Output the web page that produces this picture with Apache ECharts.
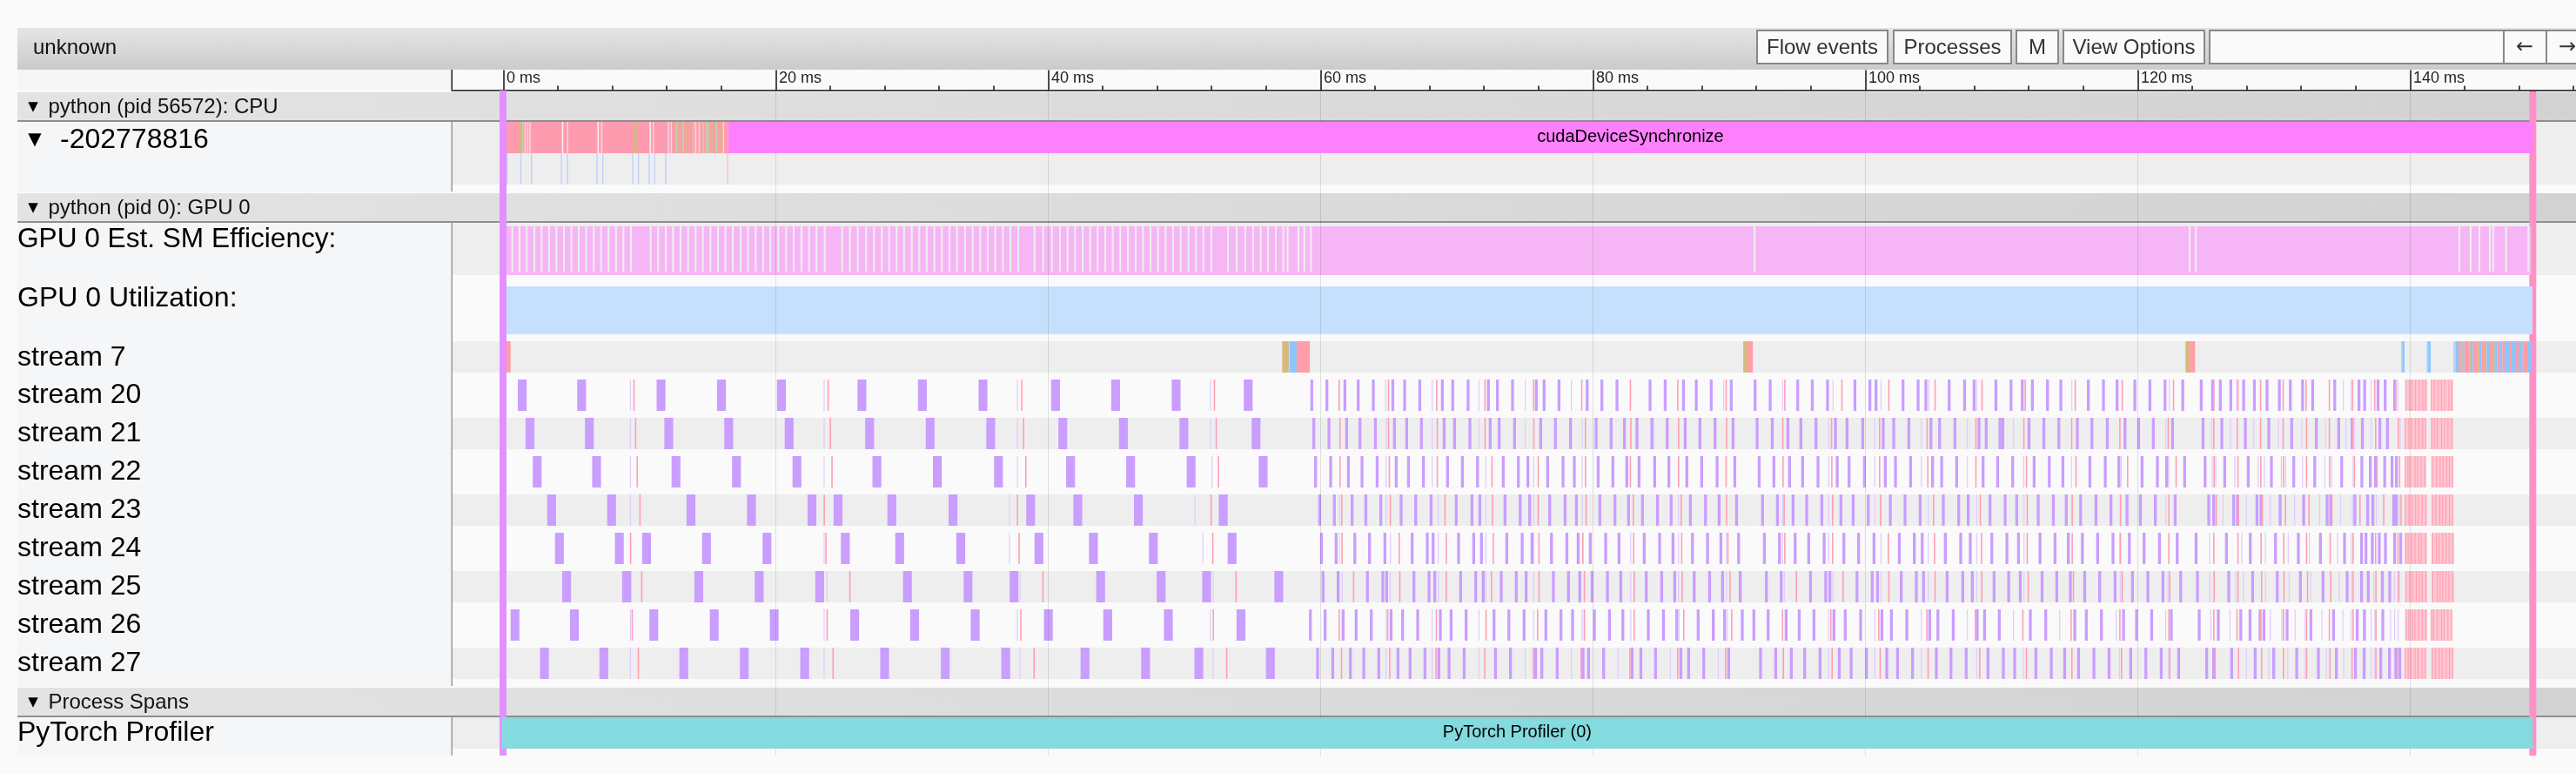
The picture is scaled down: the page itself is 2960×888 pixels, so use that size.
<!doctype html>
<html lang="en">

<head>
	<meta charset="UTF-8">
	<title>unknown</title>
	<script src="https://cdn.jsdelivr.net/npm/echarts@6/dist/echarts.min.js"></script>
	<style>
		html,
		body {
			margin: 0;
			padding: 0;
			width: 100%;
			height: 100%;
			background: #fafafa;
		}

		#main {
			width: 100%;
			height: 100%;
		}
	</style>
</head>

<body>
	<div id="main"></div>
	<script type="text/javascript">
		// all times in ms
		var rulerMajorMs = 20;
		var rulerMinorParts = 5;

		var cpuSyncSpan = [16.50, 149.0];
		var cpuOpSpan = [0.06, 16.50];
		var cpuOpTan = [1.23, 9.58, 9.70, 12.86, 13.35, 13.62, 15.26, 15.90];
		var cpuOpGreen = [1.38, 12.68, 13.15, 13.90, 14.63, 14.84, 15.01, 15.60];
		var cpuOpLight = [1.55, 1.74, 1.91, 4.66, 7.17, 10.96, 12.07, 12.28, 14.07, 14.33, 16.11];
		var cpuOpWhite = [4.30, 6.91, 10.73];
		var cpuOpBlue = [11.88];
		var cpuChildBlue = [0.23, 1.23, 2.02, 4.21, 4.66, 6.83, 7.25, 9.45, 9.87, 10.66, 11.05, 11.88];
		var cpuChildPink = [16.41];

		var efficiencySpan = [0.0, 148.88];
		var efficiencyGaps = [0.59, 1.12, 1.65, 2.21, 2.74, 3.29, 3.83, 4.38, 4.93, 5.47, 6.02, 6.57, 7.11, 7.66, 8.21, 8.75, 9.30,
			10.75, 11.30, 11.86, 12.39, 12.94, 13.50, 14.05, 14.58, 15.14, 15.69, 16.24, 16.78, 17.35, 17.90, 18.46, 19.01, 19.54,
			20.12, 20.70, 21.25, 21.82, 22.38, 22.93, 23.53, 24.81, 25.38, 25.96, 26.57, 27.15, 27.72, 28.26, 28.81, 29.36, 29.92,
			30.47, 31.02, 31.58, 32.13, 32.69, 33.24, 33.84, 34.39, 34.95, 35.50, 36.05, 36.61, 37.16, 37.74, 38.93, 39.57, 40.21,
			40.80, 41.36, 41.91, 42.47, 43.02, 43.57, 44.13, 44.68, 45.23, 45.79, 46.36, 46.90, 47.45, 48.00, 48.56, 49.11, 49.66,
			50.24, 50.79, 51.33, 51.92, 53.14, 53.78, 54.41, 54.99, 55.54, 56.08, 56.65, 57.20, 57.52, 58.31, 58.74, 59.23,
			91.80, 123.75, 124.20, 143.55, 144.38, 145.02, 145.79, 146.04, 146.98, 148.62];
		var utilizationSpan = [0.0, 148.98];

		var stream7Pink = [[0.0, 0.53], [58.24, 59.21], [91.35, 91.74], [123.82, 124.21], [143.55, 143.72], [143.98, 144.34], [144.62, 144.98],
			[145.26, 145.47], [145.79, 146.04], [146.38, 146.55], [146.77, 146.94], [147.26, 147.45], [147.77, 147.96], [148.26, 148.60]];
		var stream7Tan = [[57.18, 57.67], [91.04, 91.35], [123.51, 123.82], [143.72, 143.85], [144.34, 144.45], [144.98, 145.08], [145.47, 145.62], [146.04, 146.21]];
		var stream7Blue = [[57.71, 58.24], [139.42, 139.59], [141.30, 141.51], [143.34, 143.55], [143.85, 143.98], [144.45, 144.62], [145.08, 145.26],
			[145.62, 145.79], [146.21, 146.38], [146.55, 146.77], [146.94, 147.26], [147.45, 147.77], [147.96, 148.26], [148.60, 148.88]];
		var stream7PaleBlue = [[139.33, 139.42], [141.21, 141.30], [143.17, 143.34]];

		var stream20Long = [1.06, 5.42, 11.25, 15.69, 20.09, 26.00, 30.44, 34.89, 40.22, 44.63, 49.07, 54.36];
		var stream20Kernel = [59.25, 60.36, 61.68, 62.66, 63.77, 65.20, 66.07, 67.18, 68.84, 69.60, 70.73, 72.22, 72.88, 73.99, 75.74, 76.31, 77.40, 79.47, 80.55, 81.66, 84.09,
			85.20, 86.54, 87.48, 88.58, 90.05, 91.80, 92.91, 94.93, 96.00, 97.12, 99.13, 100.23, 100.68, 102.66, 103.77, 104.34, 106.05, 107.18, 107.88, 109.48,
			110.59, 111.42, 112.16, 113.27, 114.25, 116.27, 117.38, 118.38, 119.68, 120.79, 121.90, 123.20, 124.56, 125.39, 125.96, 126.73, 127.67, 128.46, 129.39, 130.29, 131.10, 132.00, 132.74, 134.36,
			136.14, 136.56, 137.54, 138.06, 138.76];
		var stream20Faint = [9.29, 23.51, 37.70, 51.88, 64.75, 68.16, 71.59, 74.99, 78.38, 89.56, 93.89, 97.59, 101.11, 104.62, 108.14, 115.12, 122.28, 127.20, 135.06, 135.63, 137.10, 139.06];
		var stream20Memset = [9.54, 23.80, 38.02, 52.16, 61.32, 64.94, 68.48, 72.03, 75.59, 79.13, 82.70, 86.18, 89.73, 94.04, 98.23, 101.68, 105.07, 108.52,
			111.69, 115.36, 118.81, 122.58, 125.54, 127.31, 128.97, 130.63, 132.31, 134.02, 135.73, 137.35, 138.89];
		var stream20Burst = [[139.65, 141.27], [141.51, 143.17]];
		var stream20BurstMarks = [139.65, 139.91, 140.10, 140.36, 140.63, 140.89, 141.10, 141.51, 141.74, 142.04, 142.27, 142.51, 142.81, 143.02];

		var stream21Long = [1.63, 5.99, 11.82, 16.22, 20.66, 26.57, 31.01, 35.46, 40.75, 45.20, 49.64, 54.94];
		var stream21Kernel = [59.40, 60.51, 61.81, 62.79, 63.92, 65.32, 66.22, 67.30, 68.97, 69.73, 70.86, 72.35, 73.01, 74.14, 76.06, 77.14, 78.25, 80.13, 81.23, 82.21, 83.13, 84.22,
			85.35, 86.67, 87.75, 88.86, 90.18, 91.95, 93.06, 94.21, 95.16, 96.27, 97.70, 98.55, 99.70, 101.21, 101.98, 103.09, 104.71, 105.35, 106.47, 108.24, 108.77, 109.78,
			109.99, 111.91, 113.00, 114.10, 115.46, 116.53, 117.66, 118.96, 119.96, 121.04, 122.45, 124.69, 126.07, 127.80, 129.52, 131.20, 133.01, 134.65,
			135.63, 136.39, 137.67, 138.23];
		var stream21Faint = [9.29, 23.51, 37.70, 51.88, 64.77, 68.16, 71.59, 74.99, 79.17, 84.43, 97.27, 100.66, 104.07, 107.45, 110.84, 122.02, 125.39, 126.77, 128.48, 130.29, 132.00, 133.74, 135.25, 135.88, 137.10, 139.23];
		var stream21Memset = [9.66, 23.96, 38.15, 52.29, 61.38, 64.94, 68.52, 72.03, 75.61, 79.40, 82.73, 86.24, 89.76, 93.89, 97.47, 101.00, 104.49, 108.07,
			111.59, 115.10, 118.64, 122.19, 125.54, 127.26, 128.97, 130.63, 132.35, 134.02, 135.73, 137.42, 139.08];
		var stream21Burst = [[139.59, 141.19], [141.51, 143.17]];
		var stream21BurstMarks = [139.59, 139.87, 140.08, 140.36, 140.61, 140.89, 141.10, 141.55, 141.74, 141.95, 142.27, 142.49, 142.74, 143.02];

		var stream22Long = [2.16, 6.52, 12.35, 16.79, 21.23, 27.10, 31.54, 36.03, 41.32, 45.73, 50.17, 55.46];
		var stream22Kernel = [59.53, 60.64, 61.94, 62.94, 64.05, 65.45, 66.35, 67.45, 69.22, 70.31, 71.42, 73.31, 74.42, 75.12, 76.57, 77.70, 78.53, 80.28, 81.36, 82.38, 83.28,
			84.43, 85.47, 86.79, 87.88, 89.01, 90.31, 92.10, 93.18, 94.33, 95.29, 96.42, 97.83, 98.70, 99.83, 101.36, 102.11, 103.22, 104.83, 105.50, 106.60, 108.54, 109.61,
			110.71, 112.29, 113.40, 114.40, 116.38, 117.51, 118.51, 120.21, 121.34, 122.02, 123.34, 124.84, 126.28, 128.01, 129.71, 131.35, 132.89, 134.87,
			136.35, 136.97, 137.35, 138.03, 138.57, 138.89];
		var stream22Faint = [9.29, 23.51, 37.70, 52.00, 64.77, 68.16, 72.10, 75.61, 79.17, 97.27, 100.66, 104.07, 107.45, 111.59, 115.10, 118.74, 122.24, 125.43, 125.69, 127.09, 128.80, 129.27, 130.50, 130.82, 132.06, 133.70, 134.19, 135.78];
		var stream22Memset = [9.78, 24.08, 38.31, 52.45, 61.38, 65.00, 68.52, 72.54, 75.93, 79.40, 82.70, 86.24, 89.73, 93.91, 97.49, 101.00, 104.54, 108.07,
			111.78, 115.42, 119.21, 122.77, 125.56, 127.31, 128.99, 130.65, 132.35, 134.04, 135.86, 137.52, 139.18];
		var stream22Burst = [[139.59, 141.19], [141.55, 143.17]];
		var stream22BurstMarks = [139.59, 139.80, 139.93, 140.33, 140.51, 140.78, 141.04, 141.59, 141.91, 142.17, 142.38, 142.66, 142.85, 143.10];

		var stream23Long = [3.22, 7.62, 13.45, 17.89, 22.33, 24.25, 28.20, 32.69, 38.39, 41.85, 46.30, 52.53];
		var stream23Kernel = [59.83, 60.91, 62.21, 63.22, 64.32, 65.81, 66.88, 68.01, 69.86, 71.01, 71.59, 73.44, 74.55, 75.25, 76.72, 77.85, 78.68, 80.40, 81.51, 82.51, 83.53,
			84.64, 85.64, 87.05, 88.16, 89.16, 90.44, 92.35, 93.44, 94.59, 95.59, 96.70, 98.10, 99.00, 100.11, 101.73, 102.81, 103.92, 105.62, 106.75, 107.45, 109.05,
			110.16, 111.01, 112.59, 113.70, 114.65, 115.70, 116.83, 117.93, 119.11, 120.09, 121.19, 122.64, 125.11, 125.47, 126.94, 127.22, 128.65, 128.95, 130.35, 132.08, 133.80, 134.06,
			135.84, 136.78, 137.16, 138.69, 138.89];
		var stream23Faint = [9.29, 37.13, 50.74, 61.36, 64.77, 68.60, 72.10, 75.61, 79.17, 86.24, 93.89, 97.27, 100.66, 104.58, 108.14, 111.61, 118.70, 122.02, 126.22, 127.94, 129.69, 131.48, 133.31, 134.85, 135.73, 137.48, 139.18];
		var stream23Memset = [9.98, 23.51, 37.70, 51.92, 61.51, 65.07, 69.09, 72.57, 75.93, 79.45, 82.92, 86.43, 89.76, 93.99, 97.55, 101.06, 104.96, 108.39,
			111.84, 115.14, 118.68, 122.24, 125.71, 127.35, 129.10, 130.80, 132.52, 134.21, 136.27, 138.01, 139.29];
		var stream23Burst = [[139.59, 141.25], [141.57, 143.17]];
		var stream23BurstMarks = [139.59, 139.87, 140.12, 140.36, 140.55, 140.85, 141.12, 141.61, 141.85, 142.14, 142.34, 142.59, 142.85, 143.10];

		var stream24Long = [3.79, 8.19, 10.19, 14.59, 19.03, 24.78, 28.77, 33.26, 39.00, 43.00, 47.40, 53.18];
		var stream24Kernel = [59.96, 61.04, 62.41, 63.49, 64.62, 66.62, 67.73, 68.16, 70.03, 71.14, 71.71, 73.57, 74.70, 75.42, 76.85, 77.98, 78.81, 79.70, 80.83, 81.81, 83.66,
			84.79, 85.77, 87.20, 88.31, 89.29, 90.59, 92.48, 93.59, 94.74, 95.74, 96.87, 98.32, 99.40, 100.53, 102.39, 103.49, 104.07, 105.77, 106.90, 107.60, 109.18,
			110.29, 111.14, 112.72, 113.82, 114.80, 115.83, 116.95, 118.08, 119.28, 120.36, 121.49, 122.79, 124.18, 126.41, 128.16, 130.01, 131.69, 133.31, 135.08,
			136.33, 136.65, 137.12, 137.63, 138.08, 138.76, 139.21];
		var stream24Faint = [23.51, 37.13, 51.31, 61.36, 65.09, 68.60, 72.10, 75.61, 82.73, 86.24, 89.76, 93.89, 97.27, 101.11, 104.58, 108.14, 111.61, 118.64, 125.24, 127.60, 129.33, 131.01, 132.57, 134.63, 135.63];
		var stream24Memset = [9.29, 23.64, 37.82, 52.04, 61.53, 65.73, 69.18, 72.63, 75.99, 79.21, 82.94, 86.47, 89.86, 94.04, 97.55, 101.64, 105.03, 108.48,
			111.84, 115.14, 118.68, 122.24, 125.54, 127.31, 129.01, 130.67, 132.35, 134.08, 135.76, 137.42, 139.06];
		var stream24Burst = [[139.59, 141.25], [141.57, 143.23]];
		var stream24BurstMarks = [139.65, 139.82, 140.10, 140.33, 140.61, 140.78, 141.10, 141.61, 141.89, 142.10, 142.36, 142.61, 142.83, 143.08];

		var stream25Long = [4.32, 8.72, 14.02, 18.46, 22.90, 29.34, 33.79, 37.17, 43.53, 47.97, 51.31, 56.61];
		var stream25Kernel = [60.08, 61.19, 63.34, 64.47, 64.75, 66.75, 67.86, 68.28, 70.18, 71.29, 71.84, 73.16, 74.27, 74.99, 76.99, 78.10, 78.93, 79.83, 80.96, 81.94, 83.81,
			84.94, 85.90, 87.33, 88.46, 89.41, 90.71, 92.63, 93.72, 95.87, 96.99, 97.29, 99.28, 100.40, 100.79, 102.53, 103.64, 104.17, 105.90, 107.05, 107.75, 109.35,
			110.42, 111.27, 112.87, 113.95, 114.95, 116.00, 117.10, 118.23, 119.51, 120.64, 121.75, 123.05, 124.28, 126.58, 128.33, 130.14, 131.84, 133.50, 135.27,
			136.33, 136.82, 137.86, 138.40];
		var stream25Faint = [9.37, 23.72, 37.90, 52.08, 61.55, 65.07, 68.60, 72.10, 75.61, 82.73, 86.24, 89.76, 94.01, 97.59, 101.11, 104.58, 108.14, 111.61, 118.68, 122.19, 125.26, 127.16, 127.71, 129.35, 131.08, 132.67, 134.76, 135.63, 137.29, 138.82, 139.18];
		var stream25Memset = [10.11, 25.39, 39.57, 53.75, 62.38, 65.77, 69.18, 72.50, 75.99, 79.32, 82.98, 86.50, 90.01, 94.89, 98.32, 101.68, 105.07, 108.50,
			111.91, 115.23, 118.81, 122.30, 125.56, 127.31, 129.05, 130.69, 132.42, 134.12, 135.76, 137.44, 139.08];
		var stream25Burst = [[139.65, 141.25], [141.57, 143.23]];
		var stream25BurstMarks = [139.65, 139.93, 140.14, 140.42, 140.63, 140.85, 141.12, 141.63, 141.95, 142.17, 142.36, 142.61, 142.81, 143.08];

		var stream26Long = [0.53, 4.89, 10.72, 15.16, 19.56, 25.47, 29.87, 34.32, 39.69, 44.05, 48.50, 53.83];
		var stream26Kernel = [59.15, 60.23, 61.55, 62.51, 63.62, 65.07, 65.92, 67.03, 68.69, 69.48, 70.58, 72.63, 73.72, 74.84, 76.44, 77.55, 78.40, 80.00, 81.11, 82.09, 83.96,
			85.07, 86.05, 87.62, 88.73, 89.56, 90.86, 91.71, 92.76, 94.08, 95.04, 96.12, 97.59, 98.42, 99.55, 101.11, 101.81, 102.94, 104.62, 105.22, 106.35, 108.11, 108.65, 109.73,
			112.01, 113.14, 115.27, 116.12, 117.23, 118.85, 119.81, 120.92, 122.36, 124.41, 125.81, 127.46, 128.14, 128.88, 129.16, 130.86, 132.61, 134.27,
			136.01, 136.54, 137.89];
		var stream26Faint = [9.29, 23.51, 37.70, 51.88, 64.77, 68.16, 71.59, 75.61, 79.17, 82.73, 86.28, 89.82, 97.27, 100.66, 104.07, 107.45, 110.84, 114.23, 118.38, 122.02, 125.33, 126.73, 129.69, 130.54, 131.52, 132.25, 133.48, 135.02, 135.63, 137.10, 137.37, 138.52, 138.82, 139.08];
		var stream26Memset = [9.41, 23.72, 37.94, 52.08, 61.32, 64.88, 68.45, 72.10, 75.89, 79.32, 82.98, 86.62, 90.14, 93.87, 97.42, 100.94, 104.47, 108.03,
			111.52, 115.06, 118.64, 122.24, 125.54, 127.24, 128.97, 130.65, 132.35, 134.02, 135.76, 137.44];
		var stream26Burst = [[139.65, 141.25], [141.51, 143.10]];
		var stream26BurstMarks = [139.65, 139.87, 140.12, 140.31, 140.59, 140.85, 141.12, 141.53, 141.68, 141.97, 142.27, 142.46, 142.74, 143.02];

		var stream27Long = [2.69, 7.05, 12.92, 17.36, 21.80, 27.67, 32.12, 36.56, 42.38, 46.83, 50.74, 55.99];
		var stream27Kernel = [59.68, 60.79, 62.09, 63.07, 64.17, 65.58, 66.47, 67.56, 68.58, 69.33, 70.44, 72.74, 73.84, 75.68, 76.14, 77.27, 79.17, 79.57, 80.68, 82.77, 83.41,
			84.49, 86.35, 86.92, 88.03, 89.86, 92.20, 93.31, 94.46, 95.44, 96.57, 97.98, 98.85, 99.98, 101.47, 102.26, 103.36, 105.11, 106.18, 107.30, 108.90,
			110.03, 110.86, 112.42, 113.55, 114.53, 115.55, 116.68, 117.79, 119.38, 120.49, 121.62, 122.90, 124.96, 125.47, 126.79, 128.52, 129.88, 131.57, 133.16, 134.48,
			135.88, 136.52, 137.74, 138.38, 138.84, 139.14];
		var stream27Faint = [9.29, 23.51, 37.90, 52.08, 64.77, 68.16, 71.59, 74.99, 78.38, 81.81, 85.64, 89.16, 97.27, 100.66, 104.07, 108.14, 111.59, 118.62, 122.22, 127.94, 129.59, 130.97, 132.25, 133.80, 135.08, 137.10, 137.37];
		var stream27Memset = [9.86, 24.16, 38.92, 53.06, 61.49, 65.03, 68.43, 72.01, 75.57, 79.08, 82.66, 86.18, 89.69, 93.93, 97.51, 101.04, 104.56, 108.35,
			111.78, 115.12, 118.76, 122.30, 125.64, 127.35, 129.05, 130.65, 132.35, 134.06, 135.69, 137.44, 139.01];
		var stream27Burst = [[139.59, 141.19], [141.57, 143.17]];
		var stream27BurstMarks = [139.59, 139.82, 140.02, 140.33, 140.55, 140.85, 141.10, 141.59, 141.83, 142.10, 142.32, 142.61, 142.85, 143.10];

		var profilerSpan = [-0.12, 149.0];
		var startMarker = [-0.28, 0.23];
		var endMarker = [148.75, 149.26];

		var streamNames = ['stream 20', 'stream 21', 'stream 22', 'stream 23', 'stream 24', 'stream 25', 'stream 26', 'stream 27'];
		var streamLong = [stream20Long, stream21Long, stream22Long, stream23Long, stream24Long, stream25Long, stream26Long, stream27Long];
		var streamKernel = [stream20Kernel, stream21Kernel, stream22Kernel, stream23Kernel, stream24Kernel, stream25Kernel, stream26Kernel, stream27Kernel];
		var streamFaint = [stream20Faint, stream21Faint, stream22Faint, stream23Faint, stream24Faint, stream25Faint, stream26Faint, stream27Faint];
		var streamMemset = [stream20Memset, stream21Memset, stream22Memset, stream23Memset, stream24Memset, stream25Memset, stream26Memset, stream27Memset];
		var streamBurst = [stream20Burst, stream21Burst, stream22Burst, stream23Burst, stream24Burst, stream25Burst, stream26Burst, stream27Burst];
		var streamBurstMarks = [stream20BurstMarks, stream21BurstMarks, stream22BurstMarks, stream23BurstMarks, stream24BurstMarks, stream25BurstMarks, stream26BurstMarks, stream27BurstMarks];

		// page layout, px
		var FONT = '"Liberation Sans", Arial, sans-serif';
		var PANEL_L = 20, PANEL_R = 519, PAGE_R = 2960;
		var ZERO_X = 578.4, PX_PER_MS = 15.65;
		var GRID_TOP = 103.5, GRID_BOTTOM = 868;

		// row index -> top / height
		var TRACK_CPU = 0, TRACK_CPU_CHILD = 1, TRACK_EFF = 2, TRACK_EFF_GAP = 3, TRACK_UTIL = 4, TRACK_S7 = 5, TRACK_STREAM = 6, TRACK_SPANS = 14, TRACK_MARKER = 15;
		var trackTop = [140, 176, 260, 260, 329, 392, 436, 480, 524, 568, 612, 656, 700, 744, 824, 104];
		var trackHeight = [36, 36, 56, 52, 55, 36, 36, 36, 36, 36, 36, 36, 36, 36, 36, 764];

		var palette = {
			sync: '#ff80ff', op: '#ff9bae', tan: '#d6b981', green: '#bcd8a4', light: '#ffd0da', white: '#f3f3f3',
			blue: '#a9b9ff', childBlue: '#c6d2fb', childPink: '#fbc5cc',
			eff: '#f6b6f6', gap: '#efefef', util: '#c5e0fd',
			s7Pink: '#ff9ea8', s7Blue: '#8cc6ff', s7PaleBlue: '#b3d4f5',
			kernel: '#c99eff', faint: '#e0cdfd', memset: '#ff9db2', burst: '#ffc6d2', burstMark: '#ff9fb2',
			teal: '#83dadf', start: '#e48fff', end: '#ff90c6'
		};
		var paletteKeys = Object.keys(palette);

		function spanItem(range, track, color) {
			return [range[0], range[1], track, paletteKeys.indexOf(color)];
		}

		function pushSpans(out, ranges, track, color) {
			ranges.forEach(function (r) { out.push(spanItem(r, track, color)); });
		}

		function pushStarts(out, starts, duration, track, color) {
			starts.forEach(function (s) { out.push(spanItem([s, s + duration], track, color)); });
		}

		function drawSpan(params, api) {
			var x0 = api.coord([api.value(0), 0])[0];
			var x1 = api.coord([api.value(1), 0])[0];
			var track = api.value(2);
			return {
				type: 'rect',
				shape: { x: x0, y: trackTop[track], width: x1 - x0, height: trackHeight[track] },
				style: { fill: palette[paletteKeys[api.value(3)]] }
			};
		}

		function drawLabel(params, api) {
			var mid = (api.value(0) + api.value(1)) / 2;
			var track = api.value(2);
			return {
				type: 'text',
				style: {
					x: api.coord([mid, 0])[0],
					y: trackTop[track] + 17,
					text: spanLabels[params.dataIndex],
					fontSize: 20,
					fontFamily: FONT,
					fill: '#000',
					align: 'center',
					verticalAlign: 'middle'
				}
			};
		}

		function spanSeries(items, z, render) {
			return {
				type: 'custom',
				coordinateSystem: 'cartesian2d',
				renderItem: render || drawSpan,
				data: items,
				encode: { x: [0, 1] },
				clip: false,
				silent: true,
				animation: false,
				progressive: 0,
				z: z
			};
		}

		// marks that sit under the time gridlines
		var marks = [];
		pushSpans(marks, [efficiencySpan], TRACK_EFF, 'eff');
		pushStarts(marks, efficiencyGaps, 0.13, TRACK_EFF_GAP, 'gap');
		pushSpans(marks, [utilizationSpan], TRACK_UTIL, 'util');
		pushSpans(marks, stream7PaleBlue, TRACK_S7, 's7PaleBlue');
		pushSpans(marks, stream7Tan, TRACK_S7, 'tan');
		pushSpans(marks, stream7Blue, TRACK_S7, 's7Blue');
		pushSpans(marks, stream7Pink, TRACK_S7, 's7Pink');
		pushStarts(marks, cpuChildBlue, 0.1, TRACK_CPU_CHILD, 'childBlue');
		pushStarts(marks, cpuChildPink, 0.1, TRACK_CPU_CHILD, 'childPink');
		streamNames.forEach(function (name, i) {
			var track = TRACK_STREAM + i;
			pushStarts(marks, streamFaint[i], 0.08, track, 'faint');
			pushStarts(marks, streamLong[i], 0.65, track, 'kernel');
			pushStarts(marks, streamKernel[i], 0.21, track, 'kernel');
			pushStarts(marks, streamMemset[i], 0.1, track, 'memset');
			pushSpans(marks, streamBurst[i], track, 'burst');
			pushStarts(marks, streamBurstMarks[i], 0.07, track, 'burstMark');
		});

		// slices that hide the gridlines
		var topSlices = [];
		pushSpans(topSlices, [cpuSyncSpan], TRACK_CPU, 'sync');
		pushSpans(topSlices, [cpuOpSpan], TRACK_CPU, 'op');
		pushStarts(topSlices, cpuOpLight, 0.1, TRACK_CPU, 'light');
		pushStarts(topSlices, cpuOpWhite, 0.1, TRACK_CPU, 'white');
		pushStarts(topSlices, cpuOpTan, 0.1, TRACK_CPU, 'tan');
		pushStarts(topSlices, cpuOpGreen, 0.1, TRACK_CPU, 'green');
		pushStarts(topSlices, cpuOpBlue, 0.07, TRACK_CPU, 'blue');

		var spanLabels = ['cudaDeviceSynchronize', 'PyTorch Profiler (0)'];
		var labelItems = [spanItem(cpuSyncSpan, TRACK_CPU, 'sync'), spanItem(profilerSpan, TRACK_SPANS, 'teal')];

		// page furniture
		function box(x, y, w, h, fill, z, stroke) {
			var el = { type: 'rect', shape: { x: x, y: y, width: w, height: h }, style: { fill: fill }, z: z, silent: true };
			if (stroke) {
				el.style.stroke = stroke;
				el.style.lineWidth = 2;
			}
			return el;
		}

		function label(text, x, y, size, color, align) {
			return {
				type: 'text', x: x, y: y, z: 12, silent: true,
				style: { text: text, fontSize: size, fontFamily: FONT, fill: color || '#000', align: align || 'left', verticalAlign: 'middle' }
			};
		}

		function arrow(text, x, y, size, color) {
			return {
				type: 'text', x: x, y: y, z: 12, silent: true,
				style: { text: text, fontSize: size, fontFamily: '"DejaVu Sans"', fill: color, align: 'center', verticalAlign: 'middle' }
			};
		}

		var toolbarFill = { type: 'linear', x: 0, y: 0, x2: 0, y2: 1, colorStops: [{ offset: 0, color: '#e5e5e5' }, { offset: 1, color: '#cbcbcb' }] };
		var headerFill = { type: 'linear', x: 0, y: 0, x2: 1, y2: 0, colorStops: [{ offset: 0, color: '#e3e3e3' }, { offset: 1, color: '#d2d2d2' }] };

		var furniture = [box(PANEL_L, 32, PAGE_R - PANEL_L, 48, toolbarFill, 10), label('unknown', 38, 55, 24, '#111')];

		var buttons = [['Flow events', 2018, 152], ['Processes', 2175, 137], ['M', 2316, 50], ['View Options', 2370, 164]];
		buttons.forEach(function (b) {
			furniture.push(box(b[1] + 1, 35, b[2] - 2, 38, '#fafafa', 11, '#888888'));
			furniture.push(label(b[0], b[1] + b[2] / 2, 55, 24, '#333', 'center'));
		});
		furniture.push(box(2539, 35, 338, 38, '#fafafa', 11, '#888888'));
		furniture.push(box(2877, 35, 49, 38, '#fafafa', 11, '#888888'));
		furniture.push(box(2926, 35, 60, 38, '#fafafa', 11, '#888888'));
		furniture.push(arrow('←', 2901, 55, 24, '#333'));
		furniture.push(arrow('→', 2950, 55, 24, '#333'));

		// shaded rows in the track area
		var rowBands = [[140, 72], [256, 60], [392, 36], [480, 36], [568, 36], [656, 36], [744, 36], [824, 36]];
		rowBands.forEach(function (r) {
			furniture.push(box(PANEL_R, r[0], PAGE_R - PANEL_R, r[1], '#eeeeee', 1));
		});

		// process headers
		[[106, 'python (pid 56572): CPU'], [222, 'python (pid 0): GPU 0'], [790, 'Process Spans']].forEach(function (h) {
			furniture.push(box(PANEL_L, h[0], PAGE_R - PANEL_L, 32, headerFill, 1));
			furniture.push(box(PANEL_L, h[0] + 32, PAGE_R - PANEL_L, 2, '#8f8f8f', 1));
			furniture.push(arrow('▼', 38, h[0] + 17, 15, '#000'));
			furniture.push(label(h[1], 55.5, h[0] + 17, 24, '#111'));
		});

		// left label column, above the axis start
		[[80, 23], [140, 80], [256, 532], [824, 44]].forEach(function (p) {
			furniture.push(box(PANEL_L, p[0], PANEL_R - PANEL_L, p[1], '#f5f6f8', 10));
			furniture.push(box(PANEL_R - 0.5, p[0], 1.5, p[1], p[0] === 80 ? '#222222' : '#999999', 10));
		});
		// hides the axis line under the label column
		furniture.push(box(PANEL_L, 103, PANEL_R - PANEL_L - 0.5, 3, '#fafafa', 10));

		furniture.push(arrow('▼', 40, 161, 20, '#000'));
		furniture.push(label('-202778816', 69, 161, 32));
		furniture.push(label('GPU 0 Est. SM Efficiency:', 20, 275, 31.6));
		furniture.push(label('GPU 0 Utilization:', 20, 343, 32));
		furniture.push(label('stream 7', 20, 411, 32));
		streamNames.forEach(function (name, i) {
			furniture.push(label(name, 20, 454 + 44 * i, 32));
		});
		furniture.push(label('PyTorch Profiler', 20, 842, 32));

		var myChart = echarts.init(document.getElementById('main'), null, { renderer: 'canvas' });

		var option = {
			backgroundColor: '#fafafa',
			animation: false,
			grid: {
				left: ZERO_X - PX_PER_MS * rulerMajorMs,
				top: GRID_TOP,
				width: PX_PER_MS * rulerMajorMs * 9,
				height: GRID_BOTTOM - GRID_TOP,
				outerBoundsMode: 'none'
			},
			xAxis: {
				type: 'value',
				position: 'top',
				min: -rulerMajorMs,
				max: rulerMajorMs * 8,
				interval: rulerMajorMs,
				z: 4,
				axisLine: { show: true, onZero: false, lineStyle: { color: '#111', width: 1.5 } },
				axisTick: { show: true, length: 23, lineStyle: { color: '#111', width: 1.5 } },
				minorTick: { show: true, splitNumber: rulerMinorParts, length: 5, lineStyle: { color: '#111', width: 1.5 } },
				splitLine: { show: true, showMinLine: false, lineStyle: { color: 'rgba(0,0,0,0.11)', width: 1 } },
				axisLabel: {
					show: true,
					align: 'left',
					padding: [0, 0, 0, 3.5],
					margin: 4,
					fontSize: 18,
					fontFamily: FONT,
					color: '#222',
					formatter: function (v) { return v < 0 ? '' : v + ' ms'; }
				}
			},
			yAxis: { type: 'value', min: 0, max: 1, show: false },
			graphic: { elements: furniture },
			series: [
				spanSeries([spanItem(endMarker, TRACK_MARKER, 'end')], 2),
				spanSeries(marks, 3),
				spanSeries(topSlices, 5),
				spanSeries([spanItem(startMarker, TRACK_MARKER, 'start')], 7),
				spanSeries([spanItem(profilerSpan, TRACK_SPANS, 'teal')], 8),
				spanSeries(labelItems, 9, drawLabel)
			]
		};
		myChart.setOption(option);
		window.onresize = () => myChart.resize();
	</script>
</body>

</html>
